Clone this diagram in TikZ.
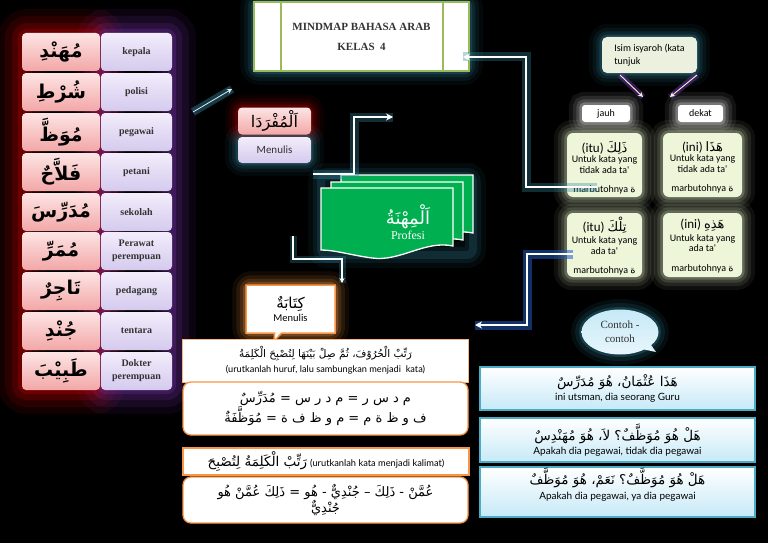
\documentclass[tikz,border=0pt]{standalone}
\usepackage{fontspec}
\setmainfont{Liberation Serif}
\newfontfamily\arf[Script=Arabic]{DejaVu Sans}
\newfontfamily\carl{Carlito}
\newfontfamily\lato{Lato}
\TeXXeTstate=1
\usetikzlibrary{arrows.meta,shapes.callouts,shapes.geometric}
\pgfdeclarelayer{bg}\pgfdeclarelayer{glowl}\pgfsetlayers{bg,glowl,main}
\newcommand\AR[1]{{\arf\beginR #1\endR}}
\newcommand\glowit[3][6]{\foreach \gw/\go in {26/0.07,18/0.10,11/0.15,5/0.25}{\draw[draw=#2,line width=\gw pt,opacity=\go,rounded corners=#1 pt] (#3.south west) rectangle (#3.north east);}}
\definecolor{redT}{HTML}{FDE4E4}\definecolor{redB}{HTML}{F3A7A7}
\definecolor{purT}{HTML}{F2EDFB}\definecolor{purB}{HTML}{D5CAEE}
\definecolor{redG}{HTML}{C00000}\definecolor{purG}{HTML}{7030A0}
\definecolor{tealG}{HTML}{31859C}\definecolor{titleG}{HTML}{9BBB59}
\definecolor{oranG}{HTML}{F79646}\definecolor{cardF}{HTML}{EEF6DA}
\definecolor{cardG}{HTML}{D7E4BD}\definecolor{isimF}{HTML}{EBF1DE}
\definecolor{cbord}{HTML}{4BACC6}\definecolor{cblue}{HTML}{C6E9F7}
\definecolor{greenC}{HTML}{00B050}\definecolor{txt}{HTML}{333333}
\tikzset{
 redbox/.style={rounded corners=4pt,top color=redT,bottom color=redB,minimum width=78,minimum height=38,inner sep=1pt,font=\arf\bfseries\fontsize{19}{21}\selectfont},
 purbox/.style={rounded corners=4pt,top color=purT,bottom color=purB,minimum width=71,minimum height=38,inner sep=1pt,align=center,text=txt,font=\bfseries\fontsize{10}{13}\selectfont},
 cardbox/.style={rounded corners=6pt,fill=cardF,inner sep=0pt},
 cardtext/.style={inner sep=0pt,align=center,text=black,font=\carl\fontsize{10}{10.5}\selectfont},
 smallbox/.style={rounded corners=3pt,fill=white,minimum height=17,inner sep=1pt,font=\carl\fontsize{10}{10}\selectfont},
 cbox/.style={draw=cbord,line width=1.3pt,top color=white,bottom color=cblue,minimum width=275,inner sep=1pt,align=center},
 obox/.style={draw=oranG,line width=1.3pt,fill=white,minimum width=286,inner sep=1pt,align=center},
 conn/.style={draw=white,line width=1.3pt,preaction={draw=tealG,line width=9pt,opacity=0.35,-},-{Stealth[length=7pt,width=7pt]}},
 parrow/.style={draw=cardF,line width=0.9pt,preaction={draw=purG,line width=6pt,opacity=0.5,-},-{Stealth[length=5pt,width=5pt]}}
}
\begin{document}
\begin{tikzpicture}[x=1pt,y=-1pt]
\begin{pgfonlayer}{bg}
\fill[black] (0,0) rectangle (768,543);
\end{pgfonlayer}
\path[use as bounding box] (0,0) rectangle (768,543);

% left column
\foreach \w/\l/\y [count=\i] in {مُهَنْدِ/kepala/52,شُرْطِ/polisi/92,مُوَظَّ/pegawai/132,فَلاَّحٌ/petani/172,مُدَرِّسَ/sekolah/212,مُمَرِّ/{Perawat\\perempuan}/251,تَاجِرٌ/pedagang/291,جُنْدِ/tentara/331,طَبِيْبَ/{Dokter\\perempuan}/371}{
 \node[redbox] (r\i) at (61,\y) {\beginR\w\endR};
 \node[purbox] (p\i) at (136.5,\y) {\l};
}
\begin{pgfonlayer}{glowl}
\foreach \gw/\go in {48/0.10,34/0.14,20/0.2,8/0.3}{
 \draw[draw=redG,line width=\gw pt,opacity=\go,rounded corners=6pt] (r1.north west) rectangle (r9.south east);
 \draw[draw=purG,line width=\gw pt,opacity=\go,rounded corners=6pt] (p1.north west) rectangle (p9.south east);}
\end{pgfonlayer}

% title
\node[draw=titleG,line width=1.5pt,fill=white,minimum width=215,minimum height=69,align=center,font=\bfseries\fontsize{11}{12}\selectfont,text=txt] (title) at (361.5,36.5) {MINDMAP BAHASA ARAB\\[8pt]KELAS~~4};
\draw[titleG,line width=1.2pt] (281,2) -- (281,71) (443,2) -- (443,71);
\begin{pgfonlayer}{glowl}\glowit{tealG}{title}\end{pgfonlayer}

% arrow from left column to title
\coordinate (d1) at (193,112); \coordinate (d2) at (232,89);
\draw[draw=white!85!tealG,line width=0.8pt,preaction={draw=tealG,line width=8pt,opacity=0.45,-},-{Stealth[length=5pt,width=5pt]}] (d1) -- (d2);

% mufradat
\node[redbox,minimum width=73,minimum height=27,font=\arf\fontsize{16}{18}\selectfont] (muf) at (274.5,121) {\beginR اَلْمُفْرَدَا\endR};
\node[purbox,minimum width=73,minimum height=26,font=\carl\fontsize{11}{12}\selectfont] (mufm) at (274.5,150) {Menulis};
\begin{pgfonlayer}{glowl}\glowit{redG}{muf}\glowit{tealG}{mufm}\end{pgfonlayer}

% green cards
\begin{pgfonlayer}{glowl}
\foreach \gw/\go in {26/0.08,16/0.12,8/0.2}{\draw[draw=tealG,line width=\gw pt,opacity=\go,rounded corners=6pt] (321,176) rectangle (473,255);}
\end{pgfonlayer}
\foreach \dx/\dy in {20/-13,10/-6,0/0}{
 \draw[white,line width=1.3pt,fill=greenC] (321+\dx,188+\dy) -- (453+\dx,188+\dy) -- (453+\dx,246+\dy) .. controls (425+\dx,240+\dy) and (400+\dx,262+\dy) .. (372+\dx,258+\dy) .. controls (350+\dx,255+\dy) and (335+\dx,250+\dy) .. (321+\dx,250+\dy) -- cycle;}
\node[text=white,align=center,inner sep=0pt] (prof) at (408,222) {{\arf\fontsize{18}{18}\selectfont\beginR اَلْمِهْنَةُ\endR}\\[1pt]{\fontsize{12}{13}\selectfont Profesi}};

% connectors middle
\coordinate (c1a) at (313,174); \coordinate (c1b) at (393,117);
\draw[conn] (c1a) -- ++(41,0) |- (c1b);
\coordinate (c2a) at (293,236); \coordinate (c2b) at (342,283);
\draw[draw=white,line width=1.1pt,preaction={draw=tealG,line width=7pt,opacity=0.3,-},-{Stealth[length=5pt,width=5pt]}] (c2a) -- ++(0,23) -| (c2b);

% kitabah
\node[rectangle callout,callout absolute pointer={(274,341)},draw=oranG,line width=1.5pt,fill=white,minimum width=89,minimum height=48,align=center,inner sep=1pt] (kit) at (290.5,309) {{\arf\fontsize{15}{16}\selectfont\beginR كِتَابَةٌ\endR}\\[1pt]{\carl\fontsize{10.5}{11}\selectfont Menulis}};
\begin{pgfonlayer}{glowl}\glowit{oranG}{kit}\end{pgfonlayer}

% big boxes
\node[obox,minimum height=43,draw=oranG!70,line width=1pt] (b1) at (325.5,360.5) {{\arf\fontsize{10.5}{13}\selectfont\beginR رَتِّبْ الْحُرُوْفَ، ثُمَّ صِلْ بَيْنَهَا لِتُصْبِحَ الْكَلِمَةُ\endR}\\[3pt]{\lato\fontsize{9.2}{10}\selectfont (urutkanlah huruf, lalu sambungkan menjadi~~kata)}};
\node[obox,rounded corners=8pt,minimum width=285,minimum height=53] (b2) at (325.5,408.5) {{\arf\fontsize{13}{17}\selectfont\beginR م د س ر = م د ر س = مُدَرِّسٌ\endR}\\{\arf\fontsize{13}{17}\selectfont\beginR ف و ظ ة م = م و ظ ف ة = مُوَظَّفَةٌ\endR}};
\node[obox,minimum height=27] (b3) at (326,461.5) {{\arf\fontsize{13.5}{13}\selectfont\beginR رَتِّبْ الْكَلِمَةُ لِتُصْبِحَ\endR}\hspace{3pt}{\lato\fontsize{9.3}{9}\selectfont (urutkanlah kata menjadi kalimat)}};
\node[obox,rounded corners=8pt,minimum width=285,minimum height=46] (b4) at (325.5,500) {{\arf\fontsize{13}{18}\selectfont\beginR عُمَّنْ - ذَلِكَ – جُنْدِيٌّ - هُو = ذَلِكَ عُمَّنْ هُو\endR}\\{\arf\fontsize{13}{16}\selectfont\beginR جُنْدِيٌّ\endR}};

% right side
\node[rounded corners=5pt,fill=isimF,minimum width=95,minimum height=36,align=left,inner sep=1pt,font=\carl\fontsize{10}{13}\selectfont] (isim) at (649.5,55) {Isim isyaroh (kata\\tunjuk};
\begin{pgfonlayer}{glowl}\glowit{tealG}{isim}\end{pgfonlayer}
\node[smallbox,minimum width=48] (jauh) at (606,113.5) {jauh};
\node[smallbox,minimum width=45] (dekat) at (700.5,113.5) {dekat};
\begin{pgfonlayer}{glowl}\glowit[3]{white}{jauh}\glowit[3]{white}{dekat}\end{pgfonlayer}
\coordinate (i1a) at (620,75); \coordinate (i1b) at (643,97);
\coordinate (i2a) at (697,75); \coordinate (i2b) at (670,97);
\draw[parrow] (i1a) -- (i1b);
\draw[parrow] (i2a) -- (i2b);

\node[cardbox,minimum width=75,minimum height=64] (k1) at (604.5,165) {};
\node[cardbox,minimum width=79,minimum height=64] (k2) at (702.5,165) {};
\node[cardbox,minimum width=75,minimum height=64] (k3) at (604.5,245) {};
\node[cardbox,minimum width=79,minimum height=64] (k4) at (702.5,245) {};
\node[cardtext] (k1t) at (604.5,167.5) {{\fontsize{13}{13}\selectfont (itu) \AR{ذَلِكَ}}\\Untuk kata yang\\tidak ada ta'\\[9pt]marbutohnya \AR{ة}};
\node[cardtext] (k2t) at (702.5,167.5) {{\fontsize{13}{13}\selectfont (ini) \AR{هَذَا}}\\Untuk kata yang\\tidak ada ta'\\[9pt]marbutohnya \AR{ة}};
\node[cardtext] (k3t) at (604.5,246) {{\fontsize{13}{13}\selectfont (itu) \AR{تِلْكَ}}\\[2pt]Untuk kata yang\\ada ta'\\[9pt]marbutohnya \AR{ة}};
\node[cardtext] (k4t) at (702.5,246) {{\fontsize{13}{13}\selectfont (ini) \AR{هَذِهِ}}\\[2pt]Untuk kata yang\\ada ta'\\[9pt]marbutohnya \AR{ة}};
\begin{pgfonlayer}{glowl}\glowit{cardG}{k1}\glowit{cardG}{k2}\glowit{cardG}{k3}\glowit{cardG}{k4}\end{pgfonlayer}

% right connectors
\coordinate (c3a) at (597,187); \coordinate (c3b) at (463,57);
\draw[conn] (c3a) -- ++(-71,0) |- (c3b);
\coordinate (c4a) at (573,254); \coordinate (c4b) at (475,325);
\draw[conn,preaction={draw=blue!60!tealG,line width=9pt,opacity=0.3,-}] (c4a) -- ++(-46,0) |- (c4b);

% contoh bubble
\node[ellipse callout,callout absolute pointer={(656,352)},top color=cblue,bottom color=cblue!40,minimum width=77,minimum height=45,align=center,inner sep=0pt,text=txt,font=\fontsize{11}{14}\selectfont] (bub) at (620,332) {Contoh -\\contoh};
\begin{pgfonlayer}{glowl}
\foreach \gw/\go in {22/0.1,14/0.15,6/0.3}{\draw[draw=tealG,line width=\gw pt,opacity=\go] (620,332) ellipse (38 and 22);}
\end{pgfonlayer}

\node[cbox,minimum height=43] (e1) at (617.5,388.5) {{\arf\fontsize{13.5}{15}\selectfont\beginR هَذَا عُثْمَانُ، هُوَ مُدَرِّسٌ\endR}\\[2pt]{\lato\fontsize{10}{10}\selectfont ini utsman, dia seorang Guru}};
\node[cbox,minimum height=44] (e2) at (617.5,440) {{\arf\fontsize{13.5}{15}\selectfont\beginR هَلْ هُوَ مُوَظَّفٌ؟ لاَ، هُوَ مُهَنْدِسٌ\endR}\\[2pt]{\lato\fontsize{10}{10}\selectfont Apakah dia pegawai, tidak dia pegawai}};
\node[cbox,minimum height=50] (e3) at (617.5,492) {{\arf\fontsize{13.5}{15}\selectfont\beginR هَلْ هُوَ مُوَظَّفٌ؟ نَعَمْ، هُوَ مُوَظَّفٌ\endR}\\[3pt]{\lato\fontsize{10}{10}\selectfont Apakah dia pegawai, ya dia pegawai}\\[4pt]};
\end{tikzpicture}
\end{document}
